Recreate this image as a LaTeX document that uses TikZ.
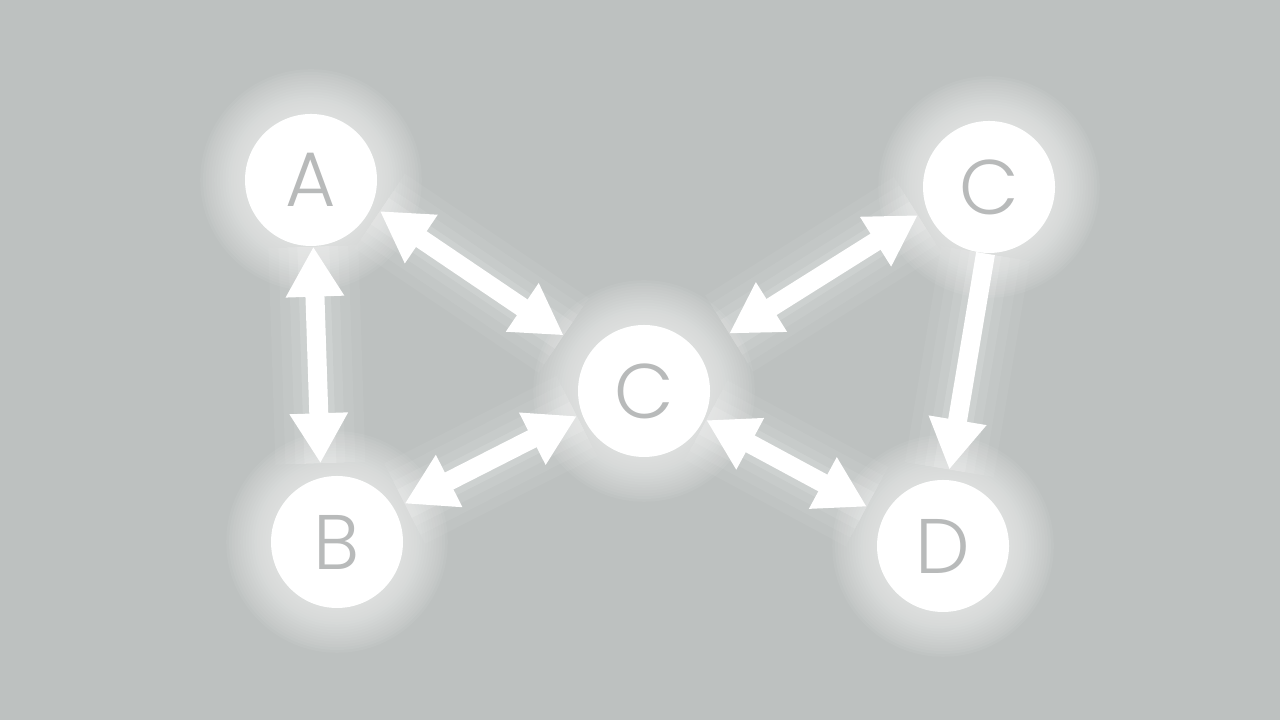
\documentclass[tikz,border=0pt]{standalone}
\usepackage{fontspec}
\setmainfont{Poppins Light}
\usetikzlibrary{arrows.meta,backgrounds}
\definecolor{bggray}{RGB}{189,193,192}
\definecolor{lettergray}{RGB}{184,186,186}
\tikzset{
	ball/.style={circle, fill=white, minimum size=1.32cm, inner sep=0pt, text=lettergray, font=\fontsize{22pt}{26pt}\selectfont},
	glowarrow/.style={draw=white, line width=1.9mm, -{Triangle[width=5.5mm,length=5mm]},
		preaction={draw=white, opacity=0.05, line width=9mm, arrows=-},
		preaction={draw=white, opacity=0.06, line width=7mm, arrows=-},
		preaction={draw=white, opacity=0.08, line width=5mm, arrows=-},
		preaction={draw=white, opacity=0.12, line width=3.2mm, arrows=-}},
	both/.style={glowarrow, {Triangle[width=5.5mm,length=5mm]}-{Triangle[width=5.5mm,length=5mm]}}
}
\begin{document}
\begin{tikzpicture}[scale=1]
	\useasboundingbox (0,0) rectangle (12.8,7.2);
	\node[ball] (A) at (3.11,5.40) {A};
	\node[ball] (B) at (3.37,1.78) {B};
	\node[ball] (Cmid) at (6.44,3.29) {C};
	\node[ball] (Cright) at (9.89,5.33) {C};
	\node[ball] (D) at (9.43,1.74) {D};
	\begin{scope}[on background layer]
		\fill[bggray] (0,0) rectangle (12.8,7.2);
		\foreach \n in {A,B,Cmid,Cright,D}
			\foreach \k in {1,...,16}
				\fill[white, opacity=0.05] (\n) circle ({0.66+0.028*\k});
	\end{scope}
	\draw[both, shorten >=1.4mm] (A.-88) -- (B.104);
	\draw[both, shorten <=0.9mm, shorten >=3.1mm] (A.-23) -- (Cmid.145);
	\draw[both, shorten <=1.1mm, shorten >=0.5mm] (B.30) -- (Cmid.200);
	\draw[both, shorten <=3.6mm, shorten >=1mm] (Cmid.35) -- (Cright.200);
	\draw[glowarrow, shorten >=1mm] (Cright.-93) -- (D.86);
	\draw[both, shorten <=0.2mm, shorten >=1.9mm] (Cmid.-25) -- (D.153);
\end{tikzpicture}
\end{document}
